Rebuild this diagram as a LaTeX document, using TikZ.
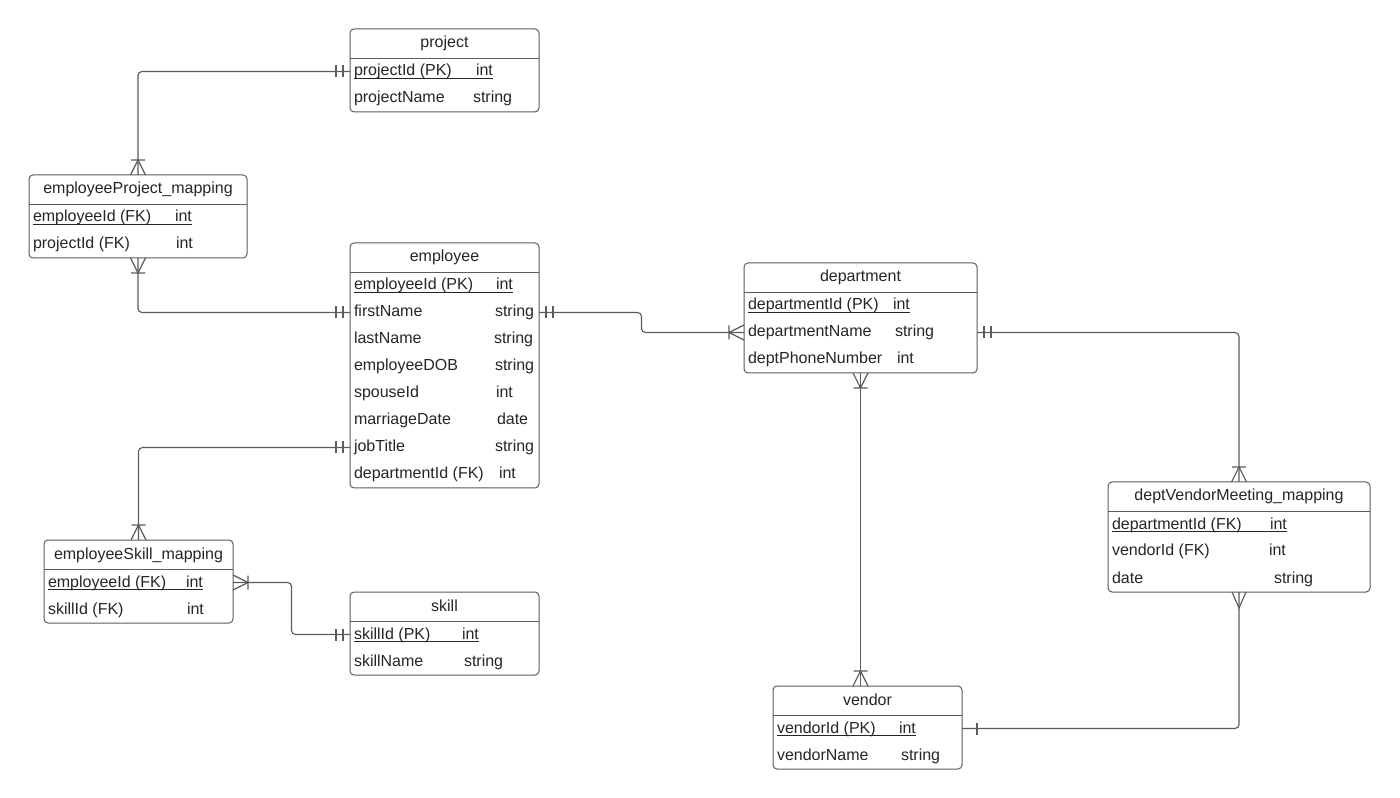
\documentclass[tikz,border=0pt]{standalone}
\usepackage{fontspec}
\setmainfont{Liberation Sans}
\usetikzlibrary{calc}
\definecolor{lc}{HTML}{5C5C5C}
\definecolor{tc}{HTML}{262626}
\tikzset{
  tbl/.style={draw=lc, line width=0.75pt, rounded corners=3pt, inner sep=0pt, outer sep=0pt, fill=white},
  sep/.style={draw=lc, line width=0.7pt},
  txt/.style={anchor=base west, inner sep=0pt, outer sep=0pt, font=\fontsize{12pt}{14pt}\selectfont, text=tc},
  uline/.style={draw=tc, line width=0.6pt},
  conn/.style={draw=lc, line width=0.85pt, rounded corners=3pt},
  mk/.style={draw=lc, line width=0.85pt},
  erbartwo/.pic={\draw[mk] (7,-6)--(7,6) (14,-6)--(14,6);},
  ercrowbar/.pic={\draw[mk] (0,-7.5)--(15,0)--(0,7.5) (15,-7)--(15,7);},
  ercrow/.pic={\draw[mk] (0,-7)--(16,0)--(0,7);},
  erone/.pic={\draw[mk] (15,-6)--(15,6);},
}
\newcommand{\ertable}[6]{%
  \def\tx{#2}\def\ty{#3}%
  \node[tbl, minimum width={#4*0.75pt}, minimum height={(29+27*#5)*0.75pt}, anchor=north west] (#1) at (#2,#3) {};
  \draw[sep] ($(#1.north west)+(0,29)$) -- ($(#1.north east)+(0,29)$);
  \node[txt, anchor=base] (#1-t) at (#2+#4/2,#3+19) {#6};
}
\newcommand{\errow}[5]{%
  \coordinate (#1-#2) at (\tx, \ty+42.5+27*#2-27);
  \node[txt] (#1-#2n) at (\tx+4, \ty+47+27*#2-27) {#3};
  \node[txt] (#1-#2t) at (#4, \ty+47+27*#2-27) {#5};
}
\newcommand{\erkey}[1]{%
  \draw[uline] ($(#1-1n.base west)+(0,2.3)$) -- ($(#1-1t.base east)+(0,2.3)$);
}
\begin{document}
\begin{tikzpicture}[x=0.75pt, y=-0.75pt]
\useasboundingbox[fill=white] (0,0) rectangle (1400,798);

% project
\ertable{p}{350}{29}{189}{2}{project}
\errow{p}{1}{projectId (PK)}{476}{int}
\errow{p}{2}{projectName}{473}{string}
\erkey{p}

% employeeProject_mapping
\ertable{epm}{29}{175}{218}{2}{employeeProject\_mapping}
\errow{epm}{1}{employeeId (FK)}{175}{int}
\errow{epm}{2}{projectId (FK)}{176}{int}
\erkey{epm}

% employee
\ertable{e}{350}{243}{189}{8}{employee}
\errow{e}{1}{employeeId (PK)}{496}{int}
\errow{e}{2}{firstName}{495}{string}
\errow{e}{3}{lastName}{494}{string}
\errow{e}{4}{employeeDOB}{495}{string}
\errow{e}{5}{spouseId}{496}{int}
\errow{e}{6}{marriageDate}{497}{date}
\errow{e}{7}{jobTitle}{495}{string}
\errow{e}{8}{departmentId (FK)}{499}{int}
\erkey{e}

% department
\ertable{d}{744}{263}{233}{3}{department}
\errow{d}{1}{departmentId (PK)}{893}{int}
\errow{d}{2}{departmentName}{895}{string}
\errow{d}{3}{deptPhoneNumber}{897}{int}
\erkey{d}

% deptVendorMeeting_mapping
\ertable{dv}{1108}{482}{262}{3}{deptVendorMeeting\_mapping}
\errow{dv}{1}{departmentId (FK)}{1270}{int}
\errow{dv}{2}{vendorId (FK)}{1269}{int}
\errow{dv}{3}{date}{1274}{string}
\erkey{dv}

% vendor
\ertable{v}{773}{686}{189}{2}{vendor}
\errow{v}{1}{vendorId (PK)}{899}{int}
\errow{v}{2}{vendorName}{901}{string}
\erkey{v}

% employeeSkill_mapping
\ertable{esm}{44}{540}{189}{2}{employeeSkill\_mapping}
\errow{esm}{1}{employeeId (FK)}{186}{int}
\errow{esm}{2}{skillId (FK)}{187}{int}
\erkey{esm}

% skill
\ertable{s}{350}{592}{189}{2}{skill}
\errow{s}{1}{skillId (PK)}{462}{int}
\errow{s}{2}{skillName}{464}{string}
\erkey{s}

% junction coordinates
\coordinate (j1) at (641.5,0);
\coordinate (j2) at (291.5,0);

% connectors
\draw[conn] (p-1) -| (epm.north);
\pic[rotate=180] at (p-1) {erbartwo};
\pic[rotate=90] at (epm.north) {ercrowbar};

\draw[conn] (epm.south) |- (e-2);
\pic[rotate=-90] at (epm.south) {ercrowbar};
\pic[rotate=180] at (e-2) {erbartwo};

\draw[conn] (e-2 -| e.east) -| (j1 |- d-2) -- (d-2);
\pic at (e-2 -| e.east) {erbartwo};
\pic[rotate=180] at (d-2) {ercrowbar};

\draw[conn] (d-2 -| d.east) -| (dv.north);
\pic at (d-2 -| d.east) {erbartwo};
\pic[rotate=90] at (dv.north) {ercrowbar};

\draw[conn] (d.south) -- (d.south |- v.north);
\pic[rotate=-90] at (d.south) {ercrowbar};
\pic[rotate=90] at (d.south |- v.north) {ercrowbar};

\draw[conn] (dv.south) |- (v-1 -| v.east);
\pic[rotate=-90] at (dv.south) {ercrow};
\pic at (v-1 -| v.east) {erone};

\draw[conn] (e-7) -| (esm.north);
\pic[rotate=180] at (e-7) {erbartwo};
\pic[rotate=90] at (esm.north) {ercrowbar};

\draw[conn] (esm-1 -| esm.east) -| (j2 |- s-1) -- (s-1);
\pic at (esm-1 -| esm.east) {ercrowbar};
\pic[rotate=180] at (s-1) {erbartwo};
\end{tikzpicture}
\end{document}
